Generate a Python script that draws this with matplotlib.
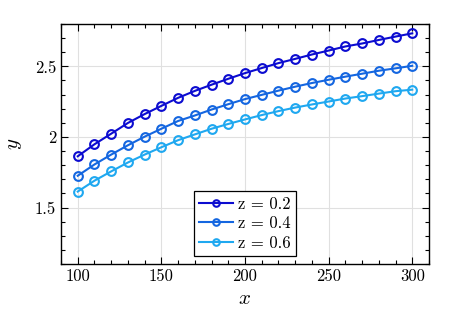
import matplotlib
matplotlib.use("Agg")
import matplotlib.pyplot as plt
from matplotlib.ticker import MultipleLocator, FuncFormatter

x = [100, 110, 120, 130, 140, 150, 160, 170, 180, 190, 200,
     210, 220, 230, 240, 250, 260, 270, 280, 290, 300]
y_z02 = [1.863, 1.948, 2.023, 2.099, 2.162, 2.220, 2.277, 2.326, 2.370, 2.412, 2.452,
         2.488, 2.523, 2.553, 2.584, 2.612, 2.641, 2.662, 2.687, 2.711, 2.734]
y_z04 = [1.725, 1.805, 1.875, 1.941, 2.002, 2.058, 2.113, 2.152, 2.194, 2.232, 2.268,
         2.298, 2.328, 2.356, 2.382, 2.405, 2.427, 2.448, 2.469, 2.486, 2.504]
y_z06 = [1.613, 1.690, 1.756, 1.819, 1.875, 1.927, 1.977, 2.018, 2.058, 2.092, 2.124,
         2.155, 2.183, 2.208, 2.230, 2.251, 2.272, 2.289, 2.307, 2.324, 2.335]
labels = ["z = 0.2", "z = 0.4", "z = 0.6"]
colors = ["#0c0cd0", "#1466e0", "#1fa8f0"]

plt.rcParams['font.family'] = 'serif'
plt.rcParams['font.serif'] = ['cmr10']
plt.rcParams['mathtext.fontset'] = 'cm'
plt.rcParams['axes.formatter.use_mathtext'] = True

fig = plt.figure(figsize=(4.74, 3.16), dpi=100)
ax = fig.add_axes([0.1287, 0.1646, 0.905 - 0.1287, 0.924 - 0.1646])

for ys, lab, c in zip([y_z02, y_z04, y_z06], labels, colors):
    ax.plot(x, ys, '-o', color=c, lw=1.5, ms=6.3, mfc='none', mec=c, mew=1.5, label=lab)

ax.set_xlim(90, 310)
ax.set_ylim(1.1, 2.8)
ax.xaxis.set_major_locator(MultipleLocator(50))
ax.xaxis.set_minor_locator(MultipleLocator(10))
ax.yaxis.set_major_locator(MultipleLocator(0.5))
ax.yaxis.set_minor_locator(MultipleLocator(0.1))
ax.yaxis.set_major_formatter(FuncFormatter(lambda v, p: '%g' % v))
ax.xaxis.set_major_formatter(FuncFormatter(lambda v, p: '%g' % v))
ax.tick_params(which='both', direction='in', top=True, right=True, labelsize=12)
ax.tick_params(which='major', length=5, width=0.8)
ax.tick_params(which='minor', length=3, width=0.8)
ax.grid(True, which='major', color='#e0e0e0', lw=0.8)
ax.set_axisbelow(True)
for s in ax.spines.values():
    s.set_linewidth(1.0)

ax.set_xlabel(r'$x$', fontsize=15, labelpad=4)
ax.set_ylabel(r'$y$', fontsize=15, labelpad=8)

leg = ax.legend(loc='lower center', fontsize=12, fancybox=False, edgecolor='black',
                framealpha=1, handlelength=2.0, borderpad=0.3, labelspacing=0.25,
                handletextpad=0.3, markerscale=0.75)
leg.get_frame().set_linewidth(0.9)

fig.savefig('out.png', dpi=100)
